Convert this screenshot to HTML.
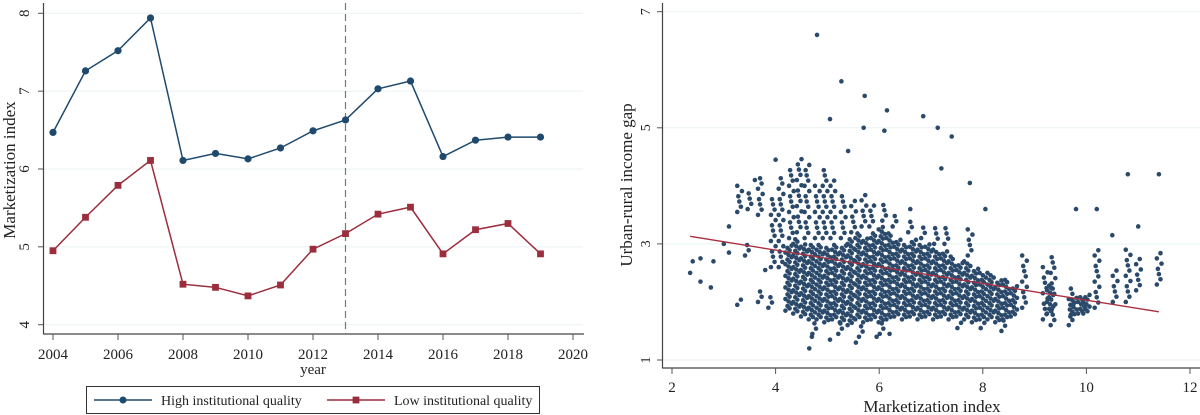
<!DOCTYPE html>
<html><head><meta charset="utf-8">
<style>
html,body{margin:0;padding:0;background:#fff;}
svg{display:block;font-family:"Liberation Serif",serif;}
</style></head>
<body>
<svg id="chart" width="1200" height="415" viewBox="0 0 1200 415" xmlns="http://www.w3.org/2000/svg">
<g id="left"></g>
<g id="right"></g>
</svg>
<script>
// ---- left chart data ----
const years = [2004,2005,2006,2007,2008,2009,2010,2011,2012,2013,2014,2015,2016,2017,2018,2019];
const highQuality = [6.47,7.26,7.52,7.94,6.11,6.20,6.13,6.27,6.49,6.63,7.03,7.13,6.16,6.37,6.41,6.41];
const lowQuality = [4.95,5.38,5.79,6.11,4.52,4.48,4.37,4.51,4.97,5.17,5.42,5.51,4.91,5.22,5.30,4.91];
const leftXTicks = [2004,2006,2008,2010,2012,2014,2016,2018,2020];
const leftYTicks = [4,5,6,7,8];
const policyYear = [2013];
// ---- right chart data ----
// dense columns: [marketization, gap low, gap high]
const denseColumns = [[4.25,1.85,3.0],[4.4,1.8,3.1],[4.55,1.75,3.0],[4.7,1.7,3.0],[4.85,1.7,3.0],[5.0,1.65,2.95],[5.15,1.7,3.0],[5.3,1.65,3.0],[5.45,1.6,3.1],[5.6,1.7,3.2],[5.75,1.65,3.1],[5.9,1.7,3.2],[6.05,1.65,3.3],[6.2,1.7,3.2],[6.35,1.75,3.1],[6.5,1.7,3.0],[6.65,1.75,3.1],[6.8,1.7,3.0],[6.95,1.75,3.0],[7.1,1.7,2.9],[7.25,1.75,2.9],[7.4,1.7,2.8],[7.55,1.75,2.7],[7.7,1.7,2.7],[7.85,1.65,2.6],[8.0,1.7,2.5],[8.15,1.7,2.5],[8.3,1.65,2.4],[8.45,1.7,2.4],[8.6,1.75,2.3],[9.3,1.8,2.3],[9.75,1.75,2.1],[9.9,1.8,2.1],[10.0,1.8,2.15]];
// sparse columns: [marketization, gap low, gap high]
const sparseColumns = [[3.3,3.55,4.0],[3.3,1.95,2.05],[3.45,2.8,3.05],[3.5,3.6,3.9],[3.7,2.0,2.2],[3.7,3.5,4.2],[3.9,1.9,2.1],[3.95,2.6,3.8],[4.1,2.6,4.2],[4.3,3.1,4.3],[4.45,3.2,4.5],[4.6,3.1,4.4],[4.75,1.45,1.7],[4.8,3.1,4.0],[4.95,3.1,4.3],[5.1,3.1,4.1],[5.25,1.45,1.65],[5.3,3.1,3.9],[5.5,3.2,3.8],[5.65,1.4,1.65],[5.7,3.3,3.9],[5.85,3.3,3.7],[6.05,1.45,1.65],[6.1,3.4,3.7],[6.3,3.3,3.5],[6.6,3.2,3.4],[6.85,3.1,3.3],[7.1,3.0,3.3],[7.3,3.0,3.3],[7.55,1.55,1.7],[7.75,2.8,3.3],[8.0,1.55,1.7],[8.4,1.5,1.7],[8.8,1.9,2.8],[9.2,1.7,2.6],[9.35,1.6,2.8],[9.7,1.6,2.3],[10.2,1.9,2.9],[10.55,2.0,2.6],[10.8,2.0,2.9],[11.0,2.2,2.8],[11.4,2.3,2.9]];
const outliersX = [4.8,5.27,5.72,6.15,6.85,5.05,5.7,6.1,7.13,7.4,11.4,10.8,9.8,10.2,8.05,11.0,10.5,2.35,2.4,2.55,2.55,2.8,2.75,3.1,3.0,3.1,3.8,4.7,4.65,5.55,5.05,5.95,6.2,3.6,4.0,5.4,6.6,7.2,7.75];
const outliersY = [6.6,5.8,5.55,5.3,5.2,5.15,5.0,4.95,5.0,4.85,4.2,4.2,3.6,3.6,3.6,3.3,3.15,2.5,2.7,2.75,2.35,2.7,2.25,3.3,3.0,2.85,2.55,1.4,1.2,1.3,1.35,1.4,1.45,4.1,4.45,4.6,3.6,4.3,4.05];
const fitX = [2.35,11.4];
const fitY = [3.13,1.83];
const rightXTicks = [2,4,6,8,10,12];
const rightYTicks = [1,3,5,7];

const NS="http://www.w3.org/2000/svg";
function mk(parent,tag,attrs,text){const e=document.createElementNS(NS,tag);for(const k in attrs)e.setAttribute(k,attrs[k]);if(text!==undefined)e.textContent=text;parent.appendChild(e);return e;}

// ---- left ----
const L=document.getElementById('left');
const lx=v=>53+(v-2004)*(573-53)/16;
const ly=v=>324.7-(v-4)*(324.7-13.3)/4;
leftYTicks.forEach(t=>{
  let g=mk(L,'line',{x1:44,x2:583,y1:ly(t),y2:ly(t),stroke:'#eaf2f3','stroke-width':1});
  
  
  mk(L,'line',{x1:38,x2:44,y1:ly(t),y2:ly(t),stroke:'#555'});
  let tx=mk(L,'text',{x:0,y:0,'font-size':15,fill:'#222','text-anchor':'middle',transform:`translate(29,${ly(t)}) rotate(-90)`},t);
  
  
});
mk(L,'line',{x1:43.5,x2:43.5,y1:3,y2:334,stroke:'#444','stroke-width':1.2});
mk(L,'line',{x1:43,x2:584,y1:334,y2:334,stroke:'#444','stroke-width':1.2});
leftXTicks.forEach(t=>{
  mk(L,'line',{x1:lx(t),x2:lx(t),y1:334,y2:340,stroke:'#555'});
  let tx=mk(L,'text',{x:lx(t),y:359,'font-size':15,fill:'#222','text-anchor':'middle'},t);
  
  
});
let yl=mk(L,'text',{x:0,y:0,'font-size':17,fill:'#222','text-anchor':'middle',transform:`translate(15,170) rotate(-90)`},'Marketization index');


let xl=mk(L,'text',{x:lx(2012),y:374,'font-size':15,fill:'#222','text-anchor':'middle'},'year');


policyYear.forEach(p=>{
  let d=mk(L,'line',{x1:lx(p),x2:lx(p),y1:3,y2:334,stroke:'#777','stroke-width':1.2,'stroke-dasharray':'7,4'});
  
  
});
function series(vals,color,shape,name){
  let pts=vals.map((v,i)=>lx(years[i])+','+ly(v)).join(' ');
  let pl=mk(L,'polyline',{points:pts,fill:'none',stroke:color,'stroke-width':1.5});
  
  
  vals.forEach((v,i)=>{
    let m=shape==='c'?mk(L,'circle',{cx:lx(years[i]),cy:ly(v),r:3.6,fill:color}):mk(L,'rect',{x:lx(years[i])-3.4,y:ly(v)-3.4,width:6.8,height:6.8,fill:color});
    
    
  });
}
series(highQuality,'#1f4a6e','c','high-quality');
series(lowQuality,'#9b2d3d','s','low-quality');
// legend
const lg=mk(L,'g',{});


mk(lg,'rect',{x:86.5,y:386.5,width:453,height:27,fill:'#fff',stroke:'#333','stroke-width':1});
mk(lg,'line',{x1:94,x2:152,y1:400,y2:400,stroke:'#1f4a6e','stroke-width':1.5});
mk(lg,'circle',{cx:123,cy:400,r:3.5,fill:'#1f4a6e'});
let le1=mk(lg,'text',{x:161,y:405,'font-size':14,fill:'#222'},'High institutional quality');


mk(lg,'line',{x1:327,x2:385,y1:400,y2:400,stroke:'#9b2d3d','stroke-width':1.5});
mk(lg,'rect',{x:352.6,y:396.6,width:6.8,height:6.8,fill:'#9b2d3d'});
let le2=mk(lg,'text',{x:394,y:405,'font-size':14,fill:'#222'},'Low institutional quality');



// ---- right ----
const R=document.getElementById('right');
const rx=v=>672+(v-2)*(1190-672)/10;
const ry=v=>360-(v-1)*(360-11.7)/6;
rightYTicks.forEach(t=>{
  let g=mk(R,'line',{x1:663,x2:1200,y1:ry(t),y2:ry(t),stroke:'#eaf2f3','stroke-width':1});
  
  
  mk(R,'line',{x1:657,x2:663,y1:ry(t),y2:ry(t),stroke:'#555'});
  let tx=mk(R,'text',{x:0,y:0,'font-size':14,fill:'#222','text-anchor':'middle',transform:`translate(650,${ry(t)}) rotate(-90)`},t);
  
  
});
mk(R,'line',{x1:662.5,x2:662.5,y1:3,y2:368,stroke:'#444','stroke-width':1.2});
mk(R,'line',{x1:662,x2:1200,y1:368,y2:368,stroke:'#444','stroke-width':1.2});
rightXTicks.forEach(t=>{
  mk(R,'line',{x1:rx(t),x2:rx(t),y1:368,y2:374,stroke:'#555'});
  let tx=mk(R,'text',{x:rx(t),y:392,'font-size':15,fill:'#222','text-anchor':'middle'},t);
  
  
});
let ryl=mk(R,'text',{x:0,y:0,'font-size':17,fill:'#222','text-anchor':'middle',transform:`translate(632,185) rotate(-90)`},'Urban-rural income gap');


let rxl=mk(R,'text',{x:932,y:412,'font-size':17,fill:'#222','text-anchor':'middle'},'Marketization index');


const dots=mk(R,'g',{fill:'#2b4a6b'});


function fillColumns(cols,step,offs){
  cols.forEach(c=>{
    let k=0;
    for(let y=c[1];y<=c[2]+1e-9;y+=step){
      const off=offs[k%offs.length];k++;
      let d=mk(dots,'circle',{cx:rx(c[0]+off),cy:ry(y),r:2.3});
      
      
    }
  });
}
fillColumns(denseColumns,0.04,[-0.06,0.02,-0.02,0.06,0]);
fillColumns(sparseColumns,0.09,[-0.04,0.03,0,-0.02,0.05]);
outliersX.forEach((x,i)=>{
  let d=mk(dots,'circle',{cx:rx(x),cy:ry(outliersY[i]),r:2.3});
  
  
});
let fl=mk(R,'line',{x1:rx(fitX[0]),y1:ry(fitY[0]),x2:rx(fitX[1]),y2:ry(fitY[1]),stroke:'#a83040','stroke-width':1.4});


</script>
</body></html>
